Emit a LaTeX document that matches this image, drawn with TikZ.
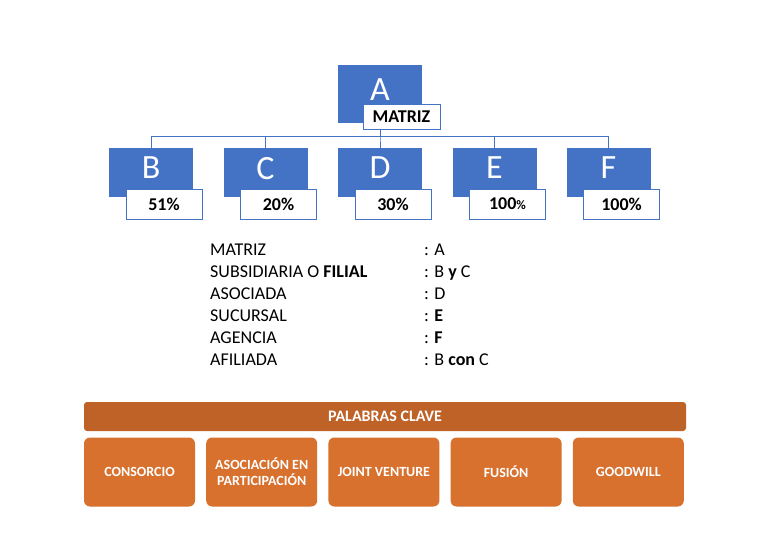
\documentclass[tikz,border=0pt]{standalone}
\usepackage{fontspec}
\setmainfont{Carlito}
\definecolor{boxblue}{RGB}{68,114,196}
\definecolor{clavedark}{RGB}{190,98,40}
\definecolor{claveorange}{RGB}{216,112,46}
\tikzset{
  unit/.style={fill=boxblue, text=white, minimum width=84pt, minimum height=49pt,
    inner sep=0pt, text depth=9pt, font=\fontsize{34}{34}\selectfont},
  tag/.style={draw=boxblue, fill=white, minimum width=76pt, minimum height=30pt,
    inner sep=0pt, font=\bfseries\fontsize{18}{18}\selectfont},
  link/.style={draw=boxblue, line width=1pt},
  legend/.style={anchor=base west, inner sep=0pt, font=\fontsize{18}{18}\selectfont},
  clave/.style={fill=claveorange, rounded corners=6pt, text=white, minimum width=111pt,
    minimum height=69pt, inner sep=2pt, align=center, font=\bfseries\fontsize{14}{16}\selectfont}
}
\begin{document}
\begin{tikzpicture}[x=1pt,y=-1pt]
    \useasboundingbox[fill=white] (0,0) rectangle (768,543);
    % parent company
    \node[unit, minimum height=58pt, text depth=8pt] (A) at (380,94) {A};
    \node[tag, minimum width=77pt, minimum height=25pt] (tagA) at (401.5,116.5) {MATRIZ};
    % the five companies
    \foreach \n/\x/\p in {B/151/51\%, C/265.5/20\%, D/380/30\%,
        E/494.5/100{\fontsize{13}{13}\selectfont\%}, F/608.5/100\%}
        {\node[unit] (\n) at (\x,172.5) {\n};
         \node[tag] (tag\n) at (\x+13,204) {\p};
         \draw[link] (A.south |- tagA.south) -- (A.south |- 0,136) -| (\n.north);
        }
    % legend
    \foreach \t/\v [count=\i from 0] in {MATRIZ/A, SUBSIDIARIA O \textbf{FILIAL}/B \textbf{y} C,
        ASOCIADA/D, SUCURSAL/\textbf{E}, AGENCIA/\textbf{F}, AFILIADA/B \textbf{con} C}
        {\node[legend] (name\i) at (210,255.5+22*\i) {\t};
         \node[legend] (value\i) at (424,255.5+22*\i) {: \v};
        }
    % key words
    \node[fill=clavedark, rounded corners=3pt, text=white, minimum width=602pt, minimum height=29pt,
        font=\bfseries\fontsize{16}{16}\selectfont] (clave) at (385,416.5) {PALABRAS CLAVE};
    \foreach \w [count=\i from 0] in {CONSORCIO, ASOCIACIÓN EN\\PARTICIPACIÓN, JOINT VENTURE, FUSIÓN, GOODWILL}
        {\node[clave] (word\i) at (139.5+122.2*\i,472) {\w};
        }
\end{tikzpicture}
\end{document}
